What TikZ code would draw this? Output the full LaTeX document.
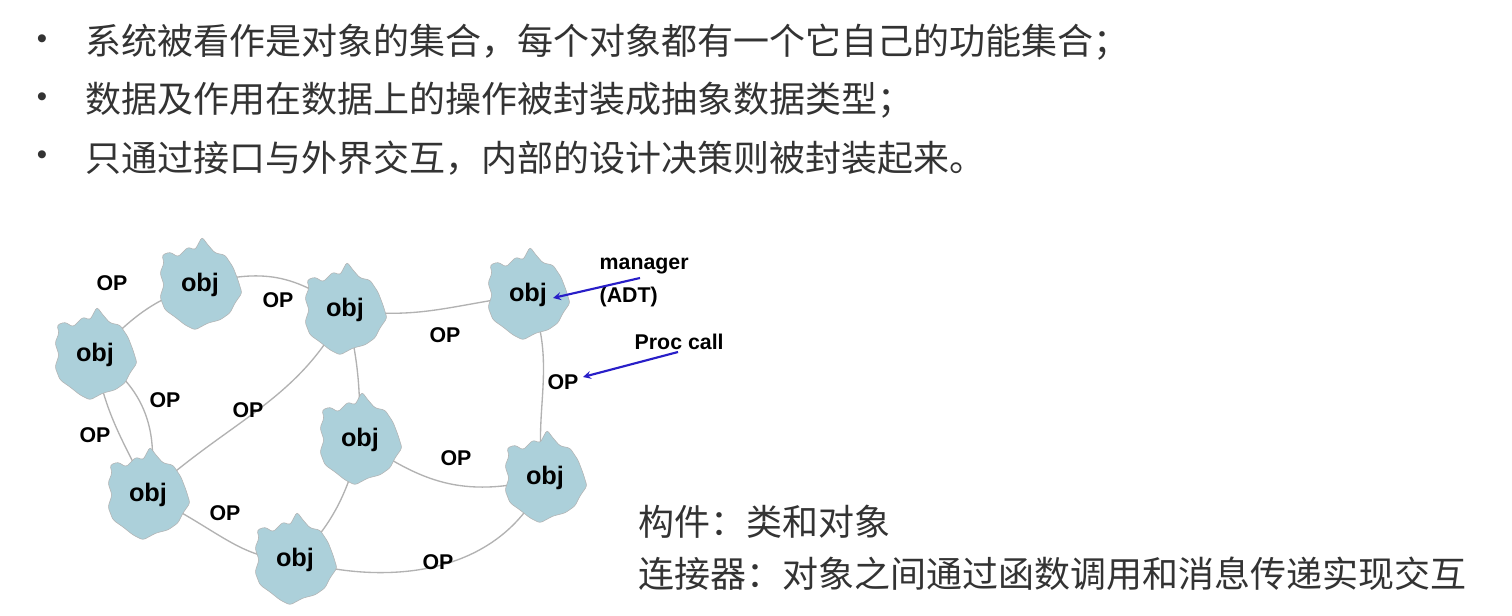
\documentclass[tikz,border=0pt]{standalone}
\usepackage{fontspec}
\setmainfont{Liberation Sans}
\newfontfamily\cjk{Noto Sans CJK SC}
\definecolor{blobfill}{RGB}{172,208,218}
\definecolor{arrowblue}{RGB}{40,30,200}
\begin{document}
\begin{tikzpicture}[x=0.75pt,y=-0.75pt,
  objlbl/.style={font=\bfseries\fontsize{19}{19}\selectfont},
  oplbl/.style={font=\bfseries\fontsize{16}{16}\selectfont},
  link/.style={draw=gray!60,line width=1pt},
  callarrow/.style={draw=arrowblue,line width=1.6pt,-stealth},
  cn/.style={font=\cjk\fontsize{27}{27}\selectfont,text=black!80,anchor=west,inner sep=0pt},
  bul/.style={font=\fontsize{22}{22}\selectfont,text=black!80,inner sep=0pt},
  pics/blob/.style={code={
    \fill[fill=blobfill,draw=gray!60,rounded corners=2pt]
      (-38,-30)--(-30,-33)--(-22,-28)--(-12,-38)--(-5,-35)--(2,-48)--(8,-40)--(15,-32)--(25,-30)--(33,-18)--(38,-5)--(42,8)--(35,18)--(30,28)--(20,35)--(8,38)--(-5,45)--(-15,40)--(-25,32)--(-35,25)--(-40,12)--(-36,0)--(-40,-12)--(-36,-22)--cycle;}}]
\useasboundingbox (0,0) rectangle (1512,616);
\fill[white] (0,0) rectangle (1512,616);
\foreach \yy/\tx in {42/{系统被看作是对象的集合，每个对象都有一个它自己的功能集合；},100/{数据及作用在数据上的操作被封装成抽象数据类型；},158/{只通过接口与外界交互，内部的设计决策则被封装起来。}}{
  \node[bul] (b\yy) at (42,\yy) {•};
  \node[cn] (t\yy) at (85,\yy) {\tx};
}
\coordinate (A) at (200,285); \coordinate (B) at (95,355); \coordinate (C) at (345,310);
\coordinate (D) at (528,295); \coordinate (E) at (148,495); \coordinate (F) at (360,440);
\coordinate (G) at (545,478); \coordinate (H) at (295,560);
\draw[link] (B) .. controls (130,320) and (150,300) .. (A);
\draw[link] (A) .. controls (270,265) and (300,280) .. (C);
\draw[link] (C) .. controls (420,320) and (450,305) .. (D);
\draw[link] (B) .. controls (105,420) and (130,450) .. (E);
\draw[link] (B) .. controls (150,390) and (160,440) .. (E);
\draw[link] (E) .. controls (230,420) and (300,400) .. (C);
\draw[link] (C) .. controls (360,360) and (360,400) .. (F);
\draw[link] (D) .. controls (560,360) and (530,420) .. (G);
\draw[link] (F) .. controls (420,480) and (460,500) .. (G);
\draw[link] (E) .. controls (220,530) and (240,560) .. (H);
\draw[link] (F) .. controls (350,490) and (330,530) .. (H);
\draw[link] (H) .. controls (380,585) and (500,580) .. (G);
\foreach \c in {A,B,C,D,E,F,G,H}{\pic at (\c) {blob};}
\foreach \c in {A,B,C,D,E,F,G,H}{\node[objlbl] (l\c) at (\c) {obj};}
\foreach \i/\px/\py in {1/112/283,2/278/300,3/445/335,4/95/435,5/165/400,6/248/410,7/563/382,8/456/458,9/225/513,10/438/562}{
  \node[oplbl] (op\i) at (\px,\py) {OP};}
\node[oplbl,anchor=west] (mgr) at (595,266) {manager};
\node[oplbl,anchor=west] (adt) at (595,297) {(ADT)};
\node[oplbl,anchor=west] (proc) at (630,342) {Proc call};
\coordinate (m1) at (640,278); \coordinate (m2) at (553,298);
\coordinate (p1) at (678,352); \coordinate (p2) at (583,377);
\draw[callarrow] (m1) -- (m2);
\draw[callarrow] (p1) -- (p2);
\node[cn] (c1) at (638,522) {构件：类和对象};
\node[cn] (c2) at (638,574) {连接器：对象之间通过函数调用和消息传递实现交互};
\end{tikzpicture}
\end{document}
